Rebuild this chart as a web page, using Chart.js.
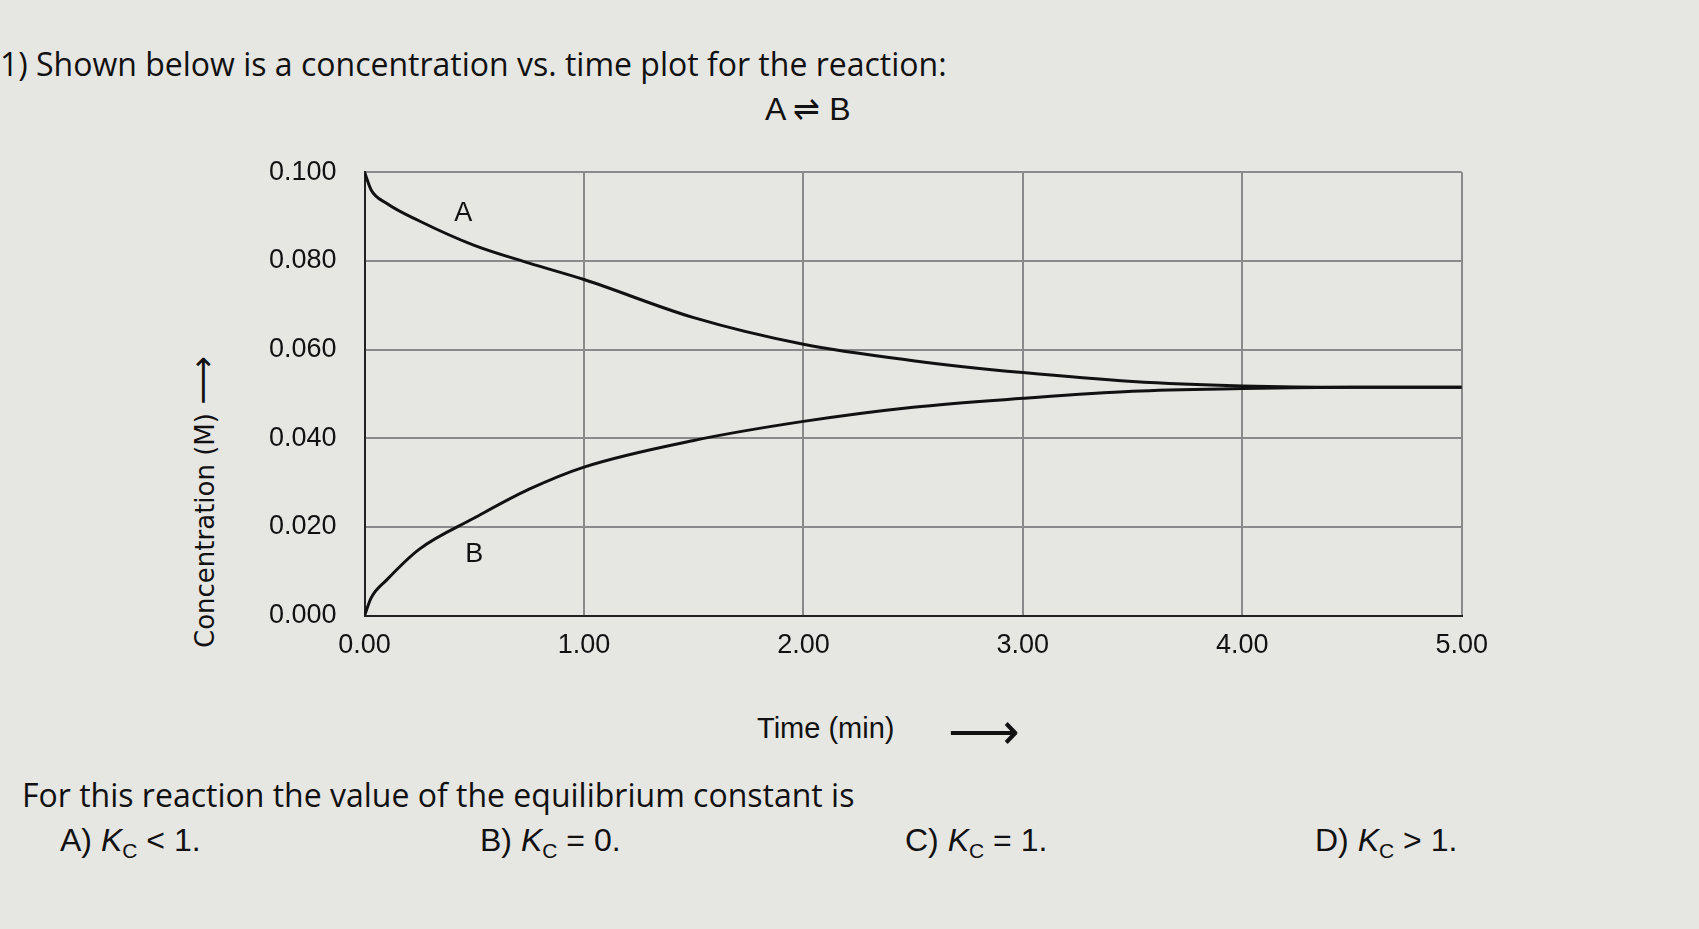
<!DOCTYPE html>
<html><head><meta charset="utf-8">
<script src="https://cdn.jsdelivr.net/npm/chart.js@4"></script>
<style>
body{margin:0;background:#e6e6e3;font-family:"Open Sans",Arial,sans-serif;color:#111;width:1699px;height:929px;position:relative;overflow:hidden}
.t{position:absolute;white-space:nowrap}
#wrap{position:absolute;left:241px;top:128px;width:1261px;height:548px}
</style></head><body>
<div class="t" style="left:0;top:42px;font-size:32px">1) Shown below is a concentration vs. time plot for the reaction:</div>
<div class="t" style="left:765px;top:90px;font-size:32px;font-family:Arial">A ⇌ B</div>
<div class="t" style="left:182px;top:648px;font-size:26px;transform:rotate(-90deg);transform-origin:0 0;font-family:'DejaVu Sans'">Concentration (M) <span style="font-size:34px">⟶</span></div>
<div class="t" style="left:757px;top:712px;font-size:29px;font-family:Arial">Time (min)</div>
<div class="t" style="left:948px;top:696px;font-size:50px">⟶</div>
<div class="t" style="left:22px;top:773px;font-size:32px">For this reaction the value of the equilibrium constant is</div>
<div class="t" style="left:60px;top:822px;font-size:32px;font-family:Arial">A) <i>K</i><sub style="font-size:21px">C</sub> &lt; 1.</div>
<div class="t" style="left:480px;top:822px;font-size:32px;font-family:Arial">B) <i>K</i><sub style="font-size:21px">C</sub> = 0.</div>
<div class="t" style="left:905px;top:822px;font-size:32px;font-family:Arial">C) <i>K</i><sub style="font-size:21px">C</sub> = 1.</div>
<div class="t" style="left:1315px;top:822px;font-size:32px;font-family:Arial">D) <i>K</i><sub style="font-size:21px">C</sub> &gt; 1.</div>
<div id="wrap"><canvas id="c"></canvas></div>
<script>
const times = [0, 0.03, 0.1, 0.25, 0.5, 0.75, 1, 1.5, 2, 2.5, 3, 3.5, 4, 4.5, 5];
const concA = [0.100, 0.096, 0.093, 0.089, 0.0835, 0.0795, 0.0758, 0.0672, 0.0612, 0.0575, 0.0548, 0.0528, 0.0518, 0.0515, 0.0515];
const concB = [0.000, 0.004, 0.008, 0.015, 0.022, 0.0285, 0.0335, 0.0395, 0.0438, 0.047, 0.049, 0.0506, 0.0512, 0.0515, 0.0515];
const yTicks = ["0.000", "0.020", "0.040", "0.060", "0.080", "0.100"];
const curveLabels = [{text: "A", x: 0.45, y: 0.089}, {text: "B", x: 0.5, y: 0.012}];

const labelPlugin = {
  id: "curveLabels",
  afterDatasetsDraw(chart) {
    const ctx = chart.ctx;
    ctx.save();
    ctx.font = "27px Arial";
    ctx.fillStyle = "#111";
    ctx.textAlign = "center";
    curveLabels.forEach((l) => {
      ctx.fillText(l.text, chart.scales.x.getPixelForValue(l.x), chart.scales.y.getPixelForValue(l.y));
    });
    ctx.restore();
  }
};

new Chart(document.getElementById("c"), {
  type: "line",
  data: {
    datasets: [
      {data: times.map((t, i) => ({x: t, y: concA[i]})), borderColor: "#111", borderWidth: 3, pointRadius: 0, cubicInterpolationMode: "monotone"},
      {data: times.map((t, i) => ({x: t, y: concB[i]})), borderColor: "#111", borderWidth: 3, pointRadius: 0, cubicInterpolationMode: "monotone"}
    ]
  },
  plugins: [labelPlugin],
  options: {
    responsive: true,
    maintainAspectRatio: false,
    animation: false,
    plugins: {legend: {display: false}, tooltip: {enabled: false}},
    scales: {
      x: {
        type: "linear", min: 0, max: 5,
        grid: {color: "#8a8a8a", lineWidth: 2, drawTicks: false},
        border: {color: "#222", width: 2},
        ticks: {stepSize: 1, padding: 14, color: "#111", font: {size: 27, family: "Arial"}, callback: (v) => v.toFixed(2)}
      },
      y: {
        min: 0, max: 0.1,
        grid: {color: "#8a8a8a", lineWidth: 2, drawTicks: false},
        border: {color: "#222", width: 2},
        ticks: {stepSize: 0.02, padding: 28, color: "#111", font: {size: 27, family: "Arial"}, callback: (v) => yTicks[Math.round(v / 0.02)]}
      }
    }
  }
});
</script>
</body></html>
